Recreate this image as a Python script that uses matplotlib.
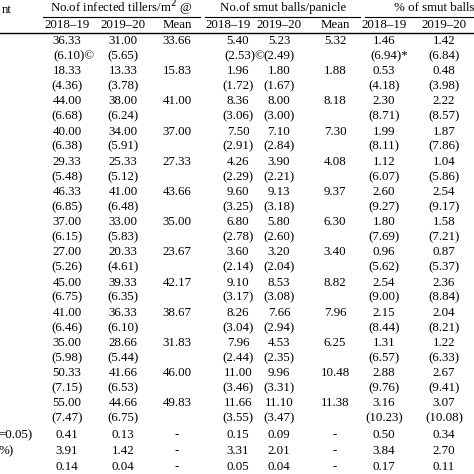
import matplotlib.pyplot as plt

plt.rcParams['font.family'] = ['Liberation Serif', 'DejaVu Serif']

tillers_1819 = ["36.33", "18.33", "44.00", "40.00", "29.33", "46.33", "37.00",
                "27.00", "45.00", "41.00", "35.00", "50.33", "55.00"]
tillers_1819_t = ["(6.10)©", "(4.36)", "(6.68)", "(6.38)", "(5.48)", "(6.85)", "(6.15)",
                  "(5.26)", "(6.75)", "(6.46)", "(5.98)", "(7.15)", "(7.47)"]
tillers_1920 = ["31.00", "13.33", "38.00", "34.00", "25.33", "41.00", "33.00",
                "20.33", "39.33", "36.33", "28.66", "41.66", "44.66"]
tillers_1920_t = ["(5.65)", "(3.78)", "(6.24)", "(5.91)", "(5.12)", "(6.48)", "(5.83)",
                  "(4.61)", "(6.35)", "(6.10)", "(5.44)", "(6.53)", "(6.75)"]
tillers_mean = ["33.66", "15.83", "41.00", "37.00", "27.33", "43.66", "35.00",
                "23.67", "42.17", "38.67", "31.83", "46.00", "49.83"]
balls_1819 = ["5.40", "1.96", "8.36", "7.50", "4.26", "9.60", "6.80",
              "3.60", "9.10", "8.26", "7.96", "11.00", "11.66"]
balls_1819_t = ["(2.53)©", "(1.72)", "(3.06)", "(2.91)", "(2.29)", "(3.25)", "(2.78)",
                "(2.14)", "(3.17)", "(3.04)", "(2.44)", "(3.46)", "(3.55)"]
balls_1920 = ["5.23", "1.80", "8.00", "7.10", "3.90", "9.13", "5.80",
              "3.20", "8.53", "7.66", "4.53", "9.96", "11.10"]
balls_1920_t = ["(2.49)", "(1.67)", "(3.00)", "(2.84)", "(2.21)", "(3.18)", "(2.60)",
                "(2.04)", "(3.08)", "(2.94)", "(2.35)", "(3.31)", "(3.47)"]
balls_mean = ["5.32", "1.88", "8.18", "7.30", "4.08", "9.37", "6.30",
              "3.40", "8.82", "7.96", "6.25", "10.48", "11.38"]
pct_1819 = ["1.46", "0.53", "2.30", "1.99", "1.12", "2.60", "1.80",
            "0.96", "2.54", "2.15", "1.31", "2.88", "3.16"]
pct_1819_t = ["(6.94)*", "(4.18)", "(8.71)", "(8.11)", "(6.07)", "(9.27)", "(7.69)",
              "(5.62)", "(9.00)", "(8.44)", "(6.57)", "(9.76)", "(10.23)"]
pct_1920 = ["1.42", "0.48", "2.22", "1.87", "1.04", "2.54", "1.58",
            "0.87", "2.36", "2.04", "1.22", "2.67", "3.07"]
pct_1920_t = ["(6.84)", "(3.98)", "(8.57)", "(7.86)", "(5.86)", "(9.17)", "(7.21)",
              "(5.37)", "(8.84)", "(8.21)", "(6.33)", "(9.41)", "(10.08)"]

stat_labels = ["=0.05)", "%)", ""]
stat_rows = [["0.41", "0.13", "-", "0.15", "0.09", "-", "0.50", "0.34"],
             ["3.91", "1.42", "-", "3.31", "2.01", "-", "3.84", "2.70"],
             ["0.14", "0.04", "-", "0.05", "0.04", "-", "0.17", "0.11"]]

col_x = [67, 123, 177, 238, 279, 335, 384, 444]
head_x = [67, 123, 177, 228, 279, 335, 384, 444]
fs = 9.3

fig = plt.figure(figsize=(4.74, 4.74), dpi=100)
ax = fig.add_axes([0, 0, 1, 1])
ax.set_xlim(0, 474)
ax.set_ylim(474, 0)
ax.axis('off')

def t(x, y, s, ha='center'):
    ax.text(x, y, s, ha=ha, va='center', fontsize=fs)

# headers
t(7, 10, "nt")
t(122, 8, "No.of infected tillers/m$^2$ @")
t(283, 8, "No.of smut balls/panicle")
t(394, 8, "% of smut balls/panicle", ha='left')
ax.plot([43, 200], [17, 17], color='black', lw=0.8)
ax.plot([205, 360], [17, 17], color='black', lw=0.8)
ax.plot([365, 474], [17, 17], color='black', lw=0.8)
for x, s in zip(head_x, ["2018–19", "2019–20", "Mean"] * 2 + ["2018–19", "2019–20"]):
    t(x, 25, s)
ax.plot([0, 474], [33, 33], color='black', lw=1.0)

cols = [(tillers_1819, tillers_1819_t), (tillers_1920, tillers_1920_t), (tillers_mean, None),
        (balls_1819, balls_1819_t), (balls_1920, balls_1920_t), (balls_mean, None),
        (pct_1819, pct_1819_t), (pct_1920, pct_1920_t)]
for x, (vals, trans) in zip(col_x, cols):
    for i, v in enumerate(vals):
        y = 41 + i * 30.2
        t(x, y, v)
        if trans is not None:
            tr = trans[i]
            if tr.endswith("©") or tr.endswith("*"):
                ax.text(x - 14, y + 15, tr, ha='left', va='center', fontsize=fs)
            else:
                t(x, y + 15, tr)

for j, (lab, row) in enumerate(zip(stat_labels, stat_rows)):
    y = 435 + j * 16
    ax.text(-2, y, lab, ha='left', va='center', fontsize=fs)
    for x, v in zip(col_x, row):
        t(x, y, v)

fig.savefig("out.png", dpi=100)
